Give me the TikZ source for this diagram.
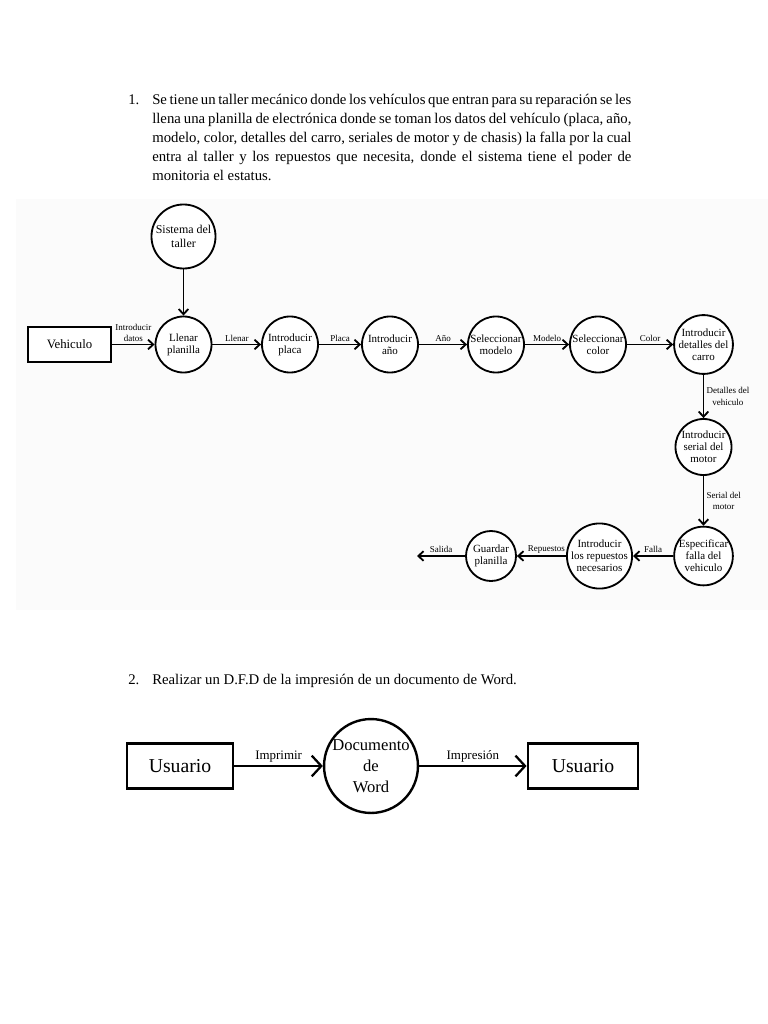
\documentclass[tikz,border=0pt]{standalone}
\usepackage{fontspec}
\setmainfont{Liberation Serif}
\usetikzlibrary{arrows.meta}

\newcommand{\enunfont}{\fontsize{10.5}{13.5}\selectfont}

\begin{document}
\begin{tikzpicture}[x=0.025cm, y=-0.025cm,
  proc/.style={circle, draw, line width=1.3pt, fill=white, minimum size=1.4cm, inner sep=0pt, align=center, font=\fontsize{7.8}{8.6}\selectfont},
  ent/.style={rectangle, draw, line width=1.4pt, fill=white, align=center},
  flow/.style={line width=1.3pt, -{Straight Barb[length=1.3mm,width=2.4mm]}},
  bigflow/.style={line width=1.6pt, -{Straight Barb[length=2.4mm,width=5.2mm]}},
  lbl/.style={font=\fontsize{6.4}{8}\selectfont, inner sep=1.5pt, align=center}]
\useasboundingbox (0,0) rectangle (768,1024);
\fill[black!1.5] (16,199) rectangle (768,610);

% enunciado 1
\node[anchor=base west, inner sep=0pt, font=\enunfont] (num1) at (128,105) {1.};
\node[anchor=north west, inner sep=0pt, text width=11.975cm, align=justify, font=\enunfont] (enun1) at (152,94)
  {Se tiene un taller mecánico donde los vehículos que entran para su reparación se les\linebreak
   llena una planilla de electrónica donde se toman los datos del vehículo (placa, año,\linebreak
   modelo, color, detalles del carro, seriales de motor y de chasis) la falla por la cual\linebreak
   entra al taller y los repuestos que necesita, donde el sistema tiene el poder de\linebreak
   monitoria el estatus.};

% diagrama del taller
\node[ent, minimum width=2.075cm, minimum height=0.875cm, font=\fontsize{9.1}{11}\selectfont] (veh) at (69.5,344.5) {Vehiculo};
\node[proc, minimum size=1.6cm, font=\fontsize{8.5}{10}\selectfont] (sis) at (183.5,236.5) {Sistema del\\taller};
\node[proc] (llen) at (183.5,344.5) {Llenar\\planilla};
\node[proc] (placa) at (290,344.5) {Introducir\\placa};
\node[proc] (anio) at (390,344.5) {Introducir\\año};
\node[proc] (modelo) at (496,344.5) {Seleccionar\\modelo};
\node[proc] (color) at (598,344.5) {Seleccionar\\color};
\node[proc] (detalles) at (703.5,344.5) {Introducir\\detalles del\\carro};
\node[proc] (serial) at (703.5,447) {Introducir\\serial del\\motor};
\node[proc] (falla) at (703.5,556) {Especificar\\falla del\\vehiculo};
\node[proc] (repuestos) at (599.5,556) {Introducir\\los repuestos\\necesarios};
\node[proc, minimum size=1.25cm] (guardar) at (491,556) {Guardar\\planilla};
\coordinate (sal) at (417,556);

\draw[flow] (veh) -- node[lbl, above] {Introducir\\datos} (llen);
\draw[flow] (sis) -- (llen);
\draw[flow] (llen) -- node[lbl, above] {Llenar} (placa);
\draw[flow] (placa) -- node[lbl, above] {Placa} (anio);
\draw[flow] (anio) -- node[lbl, above] {Año} (modelo);
\draw[flow] (modelo) -- node[lbl, above] {Modelo} (color);
\draw[flow] (color) -- node[lbl, above] {Color} (detalles);
\draw[flow] (detalles) -- node[lbl, right] {Detalles del\\vehiculo} (serial);
\draw[flow] (serial) -- node[lbl, right] {Serial del\\motor} (falla);
\draw[flow] (falla) -- node[lbl, above] {Falla} (repuestos);
\draw[flow] (repuestos) -- node[lbl, above, pos=0.4] {Repuestos} (guardar);
\draw[flow] (guardar) -- node[lbl, above] {Salida} (sal);

% enunciado 2
\node[anchor=base west, inner sep=0pt, font=\enunfont] (num2) at (128,684) {2.};
\node[anchor=base west, inner sep=0pt, font=\enunfont] (enun2) at (152,684) {Realizar un D.F.D de la impresión de un documento de Word.};

% diagrama de impresion
\node[ent, line width=2pt, minimum width=2.65cm, minimum height=1.125cm, font=\fontsize{14}{16}\selectfont] (usu1) at (180,766) {Usuario};
\node[proc, line width=1.7pt, minimum size=2.15cm, font=\fontsize{11.8}{15}\selectfont] (doc) at (371,766) {Documento\\de\\Word};
\node[ent, line width=2pt, minimum width=2.75cm, minimum height=1.125cm, font=\fontsize{14}{16}\selectfont] (usu2) at (583,766) {Usuario};

\draw[bigflow] (usu1) -- node[above, inner sep=2pt, font=\fontsize{9.2}{11}\selectfont] {Imprimir} (doc);
\draw[bigflow] (doc) -- node[above, inner sep=2pt, font=\fontsize{9.2}{11}\selectfont] {Impresión} (usu2);
\end{tikzpicture}
\end{document}
